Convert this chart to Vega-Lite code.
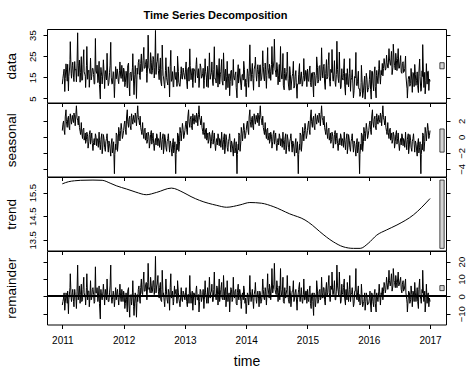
{
"$schema": "https://vega.github.io/schema/vega-lite/v6.json",
"padding": {"left": 3, "top": 9, "right": 28, "bottom": 48},
"background": "white",
"bounds": "flush",
"title": {"text": "Time Series Decomposition", "fontSize": 11, "fontWeight": "bold", "font": "Liberation Sans", "anchor": "middle", "frame": "group", "dx": -31, "offset": -2, "baseline": "alphabetic", "color": "black"},
"config": {"view": {"stroke": "black", "strokeWidth": 1}, "font": "Liberation Sans", "axis": {"grid": false, "domain": false, "ticks": true, "tickColor": "black", "tickSize": 4, "labelColor": "black", "titleColor": "black", "titleFontWeight": "normal", "labelFont": "Liberation Sans", "titleFont": "Liberation Sans", "labelFlush": false}},
"datasets": {
"ts": [
{"t":2011.00,"d":11.8,"s":0.8,"r":-5},{"t":2011.02,"d":17.0,"s":2.0,"r":-1},{"t":2011.04,"d":8.3,"s":0.3,"r":-8},{"t":2011.06,"d":21.4,"s":3.4,"r":2},{"t":2011.08,"d":13.2,"s":1.2,"r":-4},{"t":2011.10,"d":8.6,"s":2.6,"r":-10},{"t":2011.12,"d":19.9,"s":0.9,"r":3},{"t":2011.13,"d":31.9,"s":2.9,"r":13},{"t":2011.15,"d":14.6,"s":1.6,"r":-3},{"t":2011.17,"d":22.2,"s":2.2,"r":4},{"t":2011.19,"d":13.0,"s":3.0,"r":-6},{"t":2011.21,"d":18.4,"s":1.4,"r":1},{"t":2011.23,"d":12.9,"s":3.9,"r":-7},{"t":2011.25,"d":36.1,"s":2.1,"r":18},{"t":2011.27,"d":20.6,"s":2.6,"r":2},{"t":2011.29,"d":12.7,"s":0.7,"r":-4},{"t":2011.31,"d":24.8,"s":1.8,"r":7},{"t":2011.33,"d":13.8,"s":-0.2,"r":-2},{"t":2011.35,"d":28.1,"s":1.1,"r":11},{"t":2011.37,"d":16.2,"s":0.2,"r":0},{"t":2011.38,"d":10.2,"s":-0.8,"r":-5},{"t":2011.40,"d":29.6,"s":0.6,"r":13},{"t":2011.42,"d":17.6,"s":-1.4,"r":3},{"t":2011.44,"d":10.3,"s":0.3,"r":-6},{"t":2011.46,"d":24.1,"s":-0.9,"r":9},{"t":2011.48,"d":15.5,"s":0.5,"r":-1},{"t":2011.50,"d":19.3,"s":-1.7,"r":5},{"t":2011.52,"d":11.8,"s":-0.2,"r":-4},{"t":2011.54,"d":33.4,"s":0.4,"r":17},{"t":2011.56,"d":16.9,"s":-1.1,"r":2},{"t":2011.58,"d":12.5,"s":-0.5,"r":-3},{"t":2011.60,"d":22.6,"s":0.6,"r":6},{"t":2011.62,"d":4.8,"s":-1.6,"r":-13},{"t":2011.63,"d":19.7,"s":-0.3,"r":4},{"t":2011.65,"d":11.9,"s":-2.1,"r":-2},{"t":2011.67,"d":23.3,"s":0.3,"r":7},{"t":2011.69,"d":9.7,"s":-1.3,"r":-5},{"t":2011.71,"d":16.4,"s":-0.6,"r":1},{"t":2011.73,"d":26.4,"s":0.4,"r":10},{"t":2011.75,"d":11.1,"s":-1.9,"r":-3},{"t":2011.77,"d":17.2,"s":-0.8,"r":2},{"t":2011.79,"d":31.6,"s":-2.4,"r":18},{"t":2011.81,"d":11.8,"s":-0.2,"r":-4},{"t":2011.83,"d":17.7,"s":-1.3,"r":3},{"t":2011.85,"d":5.4,"s":-4.6,"r":-6},{"t":2011.87,"d":20.1,"s":-0.9,"r":5},{"t":2011.88,"d":14.3,"s":0.5,"r":-2},{"t":2011.90,"d":18.0,"s":-1.8,"r":4},{"t":2011.92,"d":12.0,"s":1.2,"r":-5},{"t":2011.94,"d":22.3,"s":-0.5,"r":7},{"t":2011.96,"d":14.5,"s":1.7,"r":-3},{"t":2011.98,"d":16.6,"s":-0.2,"r":1},
{"t":2012.00,"d":19.4,"s":0.8,"r":3},{"t":2012.02,"d":10.6,"s":2.0,"r":-7},{"t":2012.04,"d":17.9,"s":0.3,"r":2},{"t":2012.06,"d":10.0,"s":3.4,"r":-9},{"t":2012.08,"d":21.8,"s":1.2,"r":5},{"t":2012.10,"d":6.2,"s":2.6,"r":-12},{"t":2012.12,"d":17.5,"s":0.9,"r":1},{"t":2012.13,"d":13.5,"s":2.9,"r":-5},{"t":2012.15,"d":26.2,"s":1.6,"r":9},{"t":2012.17,"d":6.8,"s":2.2,"r":-11},{"t":2012.19,"d":20.6,"s":3.0,"r":2},{"t":2012.21,"d":5.0,"s":1.4,"r":-12},{"t":2012.23,"d":16.5,"s":3.9,"r":-3},{"t":2012.25,"d":23.5,"s":2.1,"r":6},{"t":2012.27,"d":14.0,"s":2.6,"r":-4},{"t":2012.29,"d":26.1,"s":0.7,"r":10},{"t":2012.31,"d":18.2,"s":1.8,"r":1},{"t":2012.33,"d":29.2,"s":-0.2,"r":14},{"t":2012.35,"d":19.5,"s":1.1,"r":3},{"t":2012.37,"d":23.6,"s":0.2,"r":8},{"t":2012.38,"d":12.6,"s":-0.8,"r":-2},{"t":2012.40,"d":35.0,"s":0.6,"r":19},{"t":2012.42,"d":19.0,"s":-1.4,"r":5},{"t":2012.44,"d":26.7,"s":0.3,"r":11},{"t":2012.46,"d":16.5,"s":-0.9,"r":2},{"t":2012.48,"d":24.9,"s":0.5,"r":9},{"t":2012.50,"d":14.7,"s":-1.7,"r":1},{"t":2012.52,"d":37.2,"s":-0.2,"r":23},{"t":2012.54,"d":21.8,"s":0.4,"r":6},{"t":2012.56,"d":26.3,"s":-1.1,"r":12},{"t":2012.58,"d":13.9,"s":-0.5,"r":-1},{"t":2012.60,"d":24.2,"s":0.6,"r":8},{"t":2012.62,"d":11.0,"s":-1.6,"r":-3},{"t":2012.63,"d":30.3,"s":-0.3,"r":15},{"t":2012.65,"d":15.5,"s":-2.1,"r":2},{"t":2012.67,"d":9.9,"s":0.3,"r":-6},{"t":2012.69,"d":24.3,"s":-1.3,"r":10},{"t":2012.71,"d":13.0,"s":-0.6,"r":-2},{"t":2012.73,"d":20.0,"s":0.4,"r":4},{"t":2012.75,"d":5.7,"s":-1.9,"r":-8},{"t":2012.77,"d":27.8,"s":-0.8,"r":13},{"t":2012.79,"d":14.2,"s":-2.4,"r":1},{"t":2012.81,"d":10.4,"s":-0.2,"r":-5},{"t":2012.83,"d":20.3,"s":-1.3,"r":6},{"t":2012.85,"d":14.0,"s":-4.6,"r":3},{"t":2012.87,"d":10.7,"s":-0.9,"r":-4},{"t":2012.88,"d":25.0,"s":0.5,"r":9},{"t":2012.90,"d":12.7,"s":-1.8,"r":-1},{"t":2012.92,"d":10.7,"s":1.2,"r":-6},{"t":2012.94,"d":20.0,"s":-0.5,"r":5},{"t":2012.96,"d":14.2,"s":1.7,"r":-3},{"t":2012.98,"d":17.3,"s":-0.2,"r":2},
{"t":2013.00,"d":14.1,"s":0.8,"r":-2},{"t":2013.02,"d":22.3,"s":2.0,"r":5},{"t":2013.04,"d":9.6,"s":0.3,"r":-6},{"t":2013.06,"d":19.7,"s":3.4,"r":1},{"t":2013.08,"d":28.5,"s":1.2,"r":12},{"t":2013.10,"d":13.9,"s":2.6,"r":-4},{"t":2013.12,"d":19.2,"s":0.9,"r":3},{"t":2013.13,"d":10.2,"s":2.9,"r":-8},{"t":2013.15,"d":18.9,"s":1.6,"r":2},{"t":2013.17,"d":12.5,"s":2.2,"r":-5},{"t":2013.19,"d":24.3,"s":3.0,"r":6},{"t":2013.21,"d":14.7,"s":1.4,"r":-2},{"t":2013.23,"d":10.2,"s":3.9,"r":-9},{"t":2013.25,"d":21.4,"s":2.1,"r":4},{"t":2013.27,"d":14.6,"s":2.6,"r":-3},{"t":2013.29,"d":16.7,"s":0.7,"r":1},{"t":2013.31,"d":9.8,"s":1.8,"r":-7},{"t":2013.33,"d":23.8,"s":-0.2,"r":9},{"t":2013.35,"d":15.1,"s":1.1,"r":-1},{"t":2013.37,"d":20.2,"s":0.2,"r":5},{"t":2013.38,"d":10.2,"s":-0.8,"r":-4},{"t":2013.40,"d":26.6,"s":0.6,"r":11},{"t":2013.42,"d":15.6,"s":-1.4,"r":2},{"t":2013.44,"d":22.3,"s":0.3,"r":7},{"t":2013.46,"d":11.1,"s":-0.9,"r":-3},{"t":2013.48,"d":29.5,"s":0.5,"r":14},{"t":2013.50,"d":14.3,"s":-1.7,"r":1},{"t":2013.52,"d":20.8,"s":-0.2,"r":6},{"t":2013.54,"d":10.4,"s":0.4,"r":-5},{"t":2013.56,"d":23.9,"s":-1.1,"r":10},{"t":2013.58,"d":16.5,"s":-0.5,"r":2},{"t":2013.60,"d":23.5,"s":0.6,"r":8},{"t":2013.62,"d":11.3,"s":-1.6,"r":-2},{"t":2013.63,"d":26.6,"s":-0.3,"r":12},{"t":2013.65,"d":15.8,"s":-2.1,"r":3},{"t":2013.67,"d":9.2,"s":0.3,"r":-6},{"t":2013.69,"d":22.6,"s":-1.3,"r":9},{"t":2013.71,"d":14.3,"s":-0.6,"r":0},{"t":2013.73,"d":6.3,"s":0.4,"r":-9},{"t":2013.75,"d":18.0,"s":-1.9,"r":5},{"t":2013.77,"d":11.1,"s":-0.8,"r":-3},{"t":2013.79,"d":23.5,"s":-2.4,"r":11},{"t":2013.81,"d":13.7,"s":-0.2,"r":-1},{"t":2013.83,"d":17.6,"s":-1.3,"r":4},{"t":2013.85,"d":5.3,"s":-4.6,"r":-5},{"t":2013.87,"d":21.0,"s":-0.9,"r":7},{"t":2013.88,"d":13.4,"s":0.5,"r":-2},{"t":2013.90,"d":16.1,"s":-1.8,"r":3},{"t":2013.92,"d":9.1,"s":1.2,"r":-7},{"t":2013.94,"d":16.4,"s":-0.5,"r":2},{"t":2013.96,"d":22.6,"s":1.7,"r":6},{"t":2013.98,"d":10.7,"s":-0.2,"r":-4},
{"t":2014.00,"d":5.8,"s":0.8,"r":-10},{"t":2014.02,"d":19.0,"s":2.0,"r":2},{"t":2014.04,"d":10.3,"s":0.3,"r":-5},{"t":2014.06,"d":30.4,"s":3.4,"r":12},{"t":2014.08,"d":13.2,"s":1.2,"r":-3},{"t":2014.10,"d":21.6,"s":2.6,"r":4},{"t":2014.12,"d":8.9,"s":0.9,"r":-7},{"t":2014.13,"d":18.9,"s":2.9,"r":1},{"t":2014.15,"d":24.6,"s":1.6,"r":8},{"t":2014.17,"d":13.2,"s":2.2,"r":-4},{"t":2014.19,"d":21.0,"s":3.0,"r":3},{"t":2014.21,"d":10.4,"s":1.4,"r":-6},{"t":2014.23,"d":20.9,"s":3.9,"r":2},{"t":2014.25,"d":14.1,"s":2.1,"r":-3},{"t":2014.27,"d":27.6,"s":2.6,"r":10},{"t":2014.29,"d":14.7,"s":0.7,"r":-1},{"t":2014.31,"d":21.8,"s":1.8,"r":5},{"t":2014.33,"d":9.8,"s":-0.2,"r":-5},{"t":2014.35,"d":29.1,"s":1.1,"r":13},{"t":2014.37,"d":16.2,"s":0.2,"r":1},{"t":2014.38,"d":21.2,"s":-0.8,"r":7},{"t":2014.40,"d":13.6,"s":0.6,"r":-2},{"t":2014.42,"d":29.6,"s":-1.4,"r":16},{"t":2014.44,"d":19.3,"s":0.3,"r":4},{"t":2014.46,"d":33.1,"s":-0.9,"r":19},{"t":2014.48,"d":17.5,"s":0.5,"r":2},{"t":2014.50,"d":22.0,"s":-1.7,"r":9},{"t":2014.52,"d":11.5,"s":-0.2,"r":-3},{"t":2014.54,"d":21.1,"s":0.4,"r":6},{"t":2014.56,"d":29.6,"s":-1.1,"r":16},{"t":2014.58,"d":14.2,"s":-0.5,"r":0},{"t":2014.60,"d":26.3,"s":0.6,"r":11},{"t":2014.62,"d":9.1,"s":-1.6,"r":-4},{"t":2014.63,"d":19.4,"s":-0.3,"r":5},{"t":2014.65,"d":13.6,"s":-2.1,"r":1},{"t":2014.67,"d":27.0,"s":0.3,"r":12},{"t":2014.69,"d":11.4,"s":-1.3,"r":-2},{"t":2014.71,"d":20.1,"s":-0.6,"r":6},{"t":2014.73,"d":9.1,"s":0.4,"r":-6},{"t":2014.75,"d":15.5,"s":-1.9,"r":3},{"t":2014.77,"d":22.6,"s":-0.8,"r":9},{"t":2014.79,"d":11.0,"s":-2.4,"r":-1},{"t":2014.81,"d":18.2,"s":-0.2,"r":4},{"t":2014.83,"d":5.1,"s":-1.3,"r":-8},{"t":2014.85,"d":11.8,"s":-4.6,"r":2},{"t":2014.87,"d":21.5,"s":-0.9,"r":8},{"t":2014.88,"d":11.9,"s":0.5,"r":-3},{"t":2014.90,"d":17.6,"s":-1.8,"r":5},{"t":2014.92,"d":11.6,"s":1.2,"r":-4},{"t":2014.94,"d":23.9,"s":-0.5,"r":10},{"t":2014.96,"d":14.1,"s":1.7,"r":-2},{"t":2014.98,"d":17.2,"s":-0.2,"r":3},
{"t":2015.00,"d":18.9,"s":0.8,"r":4},{"t":2015.02,"d":13.1,"s":2.0,"r":-3},{"t":2015.04,"d":20.4,"s":0.3,"r":6},{"t":2015.06,"d":10.5,"s":3.4,"r":-7},{"t":2015.08,"d":17.3,"s":1.2,"r":2},{"t":2015.10,"d":5.7,"s":2.6,"r":-11},{"t":2015.12,"d":16.0,"s":0.9,"r":1},{"t":2015.13,"d":11.0,"s":2.9,"r":-6},{"t":2015.15,"d":24.7,"s":1.6,"r":9},{"t":2015.17,"d":12.3,"s":2.2,"r":-4},{"t":2015.19,"d":20.1,"s":3.0,"r":3},{"t":2015.21,"d":13.5,"s":1.4,"r":-2},{"t":2015.23,"d":29.0,"s":3.9,"r":11},{"t":2015.25,"d":14.7,"s":2.1,"r":-1},{"t":2015.27,"d":21.2,"s":2.6,"r":5},{"t":2015.29,"d":9.3,"s":0.7,"r":-5},{"t":2015.31,"d":23.4,"s":1.8,"r":8},{"t":2015.33,"d":15.4,"s":-0.2,"r":2},{"t":2015.35,"d":26.7,"s":1.1,"r":12},{"t":2015.37,"d":10.8,"s":0.2,"r":-3},{"t":2015.38,"d":18.8,"s":-0.8,"r":6},{"t":2015.40,"d":28.2,"s":0.6,"r":14},{"t":2015.42,"d":13.2,"s":-1.4,"r":1},{"t":2015.44,"d":22.9,"s":0.3,"r":9},{"t":2015.46,"d":10.7,"s":-0.9,"r":-2},{"t":2015.48,"d":32.1,"s":0.5,"r":18},{"t":2015.50,"d":14.5,"s":-1.7,"r":3},{"t":2015.52,"d":27.0,"s":-0.2,"r":14},{"t":2015.54,"d":9.6,"s":0.4,"r":-4},{"t":2015.56,"d":19.1,"s":-1.1,"r":7},{"t":2015.58,"d":13.7,"s":-0.5,"r":1},{"t":2015.60,"d":23.8,"s":0.6,"r":10},{"t":2015.62,"d":6.6,"s":-1.6,"r":-5},{"t":2015.63,"d":16.9,"s":-0.3,"r":4},{"t":2015.65,"d":19.1,"s":-2.1,"r":8},{"t":2015.67,"d":10.5,"s":0.3,"r":-3},{"t":2015.69,"d":23.9,"s":-1.3,"r":12},{"t":2015.71,"d":13.6,"s":-0.6,"r":1},{"t":2015.73,"d":18.6,"s":0.4,"r":5},{"t":2015.75,"d":5.3,"s":-1.9,"r":-6},{"t":2015.77,"d":15.4,"s":-0.8,"r":3},{"t":2015.79,"d":26.8,"s":-2.4,"r":16},{"t":2015.81,"d":11.0,"s":-0.2,"r":-2},{"t":2015.83,"d":17.9,"s":-1.3,"r":6},{"t":2015.85,"d":9.6,"s":-4.6,"r":1},{"t":2015.87,"d":8.3,"s":-0.9,"r":-4},{"t":2015.88,"d":20.7,"s":0.5,"r":7},{"t":2015.90,"d":5.4,"s":-1.8,"r":-6},{"t":2015.92,"d":11.4,"s":1.2,"r":-3},{"t":2015.94,"d":4.7,"s":-0.5,"r":-8},{"t":2015.96,"d":16.9,"s":1.7,"r":2},{"t":2015.98,"d":8.0,"s":-0.2,"r":-5},
{"t":2016.00,"d":10.2,"s":0.8,"r":-4},{"t":2016.02,"d":18.4,"s":2.0,"r":3},{"t":2016.04,"d":4.7,"s":0.3,"r":-9},{"t":2016.06,"d":17.8,"s":3.4,"r":1},{"t":2016.08,"d":8.6,"s":1.2,"r":-6},{"t":2016.10,"d":20.0,"s":2.6,"r":4},{"t":2016.12,"d":5.3,"s":0.9,"r":-9},{"t":2016.13,"d":18.3,"s":2.9,"r":2},{"t":2016.15,"d":12.0,"s":1.6,"r":-3},{"t":2016.17,"d":23.0,"s":2.2,"r":7},{"t":2016.19,"d":11.8,"s":3.0,"r":-5},{"t":2016.21,"d":16.2,"s":1.4,"r":1},{"t":2016.23,"d":15.7,"s":3.9,"r":-2},{"t":2016.25,"d":23.9,"s":2.1,"r":8},{"t":2016.27,"d":18.4,"s":2.6,"r":2},{"t":2016.29,"d":25.5,"s":0.7,"r":11},{"t":2016.31,"d":19.6,"s":1.8,"r":4},{"t":2016.33,"d":28.6,"s":-0.2,"r":15},{"t":2016.35,"d":21.2,"s":1.1,"r":6},{"t":2016.37,"d":27.3,"s":0.2,"r":13},{"t":2016.38,"d":16.3,"s":-0.8,"r":3},{"t":2016.40,"d":30.7,"s":0.6,"r":16},{"t":2016.42,"d":20.7,"s":-1.4,"r":8},{"t":2016.44,"d":26.4,"s":0.3,"r":12},{"t":2016.46,"d":18.2,"s":-0.9,"r":5},{"t":2016.48,"d":28.6,"s":0.5,"r":14},{"t":2016.50,"d":19.4,"s":-1.7,"r":7},{"t":2016.52,"d":25.3,"s":-0.2,"r":11},{"t":2016.54,"d":16.9,"s":0.4,"r":2},{"t":2016.56,"d":22.4,"s":-1.1,"r":9},{"t":2016.58,"d":18.0,"s":-0.5,"r":4},{"t":2016.60,"d":25.1,"s":0.6,"r":10},{"t":2016.62,"d":10.9,"s":-1.6,"r":-2},{"t":2016.63,"d":5.2,"s":-0.3,"r":-9},{"t":2016.65,"d":15.4,"s":-2.1,"r":3},{"t":2016.67,"d":10.8,"s":0.3,"r":-4},{"t":2016.69,"d":19.2,"s":-1.3,"r":6},{"t":2016.71,"d":7.9,"s":-0.6,"r":-6},{"t":2016.73,"d":16.9,"s":0.4,"r":2},{"t":2016.75,"d":21.1,"s":-1.9,"r":8},{"t":2016.77,"d":11.2,"s":-0.8,"r":-3},{"t":2016.79,"d":17.6,"s":-2.4,"r":5},{"t":2016.81,"d":7.8,"s":-0.2,"r":-7},{"t":2016.83,"d":23.7,"s":-1.3,"r":10},{"t":2016.85,"d":8.4,"s":-4.6,"r":-2},{"t":2016.87,"d":18.1,"s":-0.9,"r":4},{"t":2016.88,"d":30.5,"s":0.5,"r":15},{"t":2016.90,"d":10.2,"s":-1.8,"r":-3},{"t":2016.92,"d":7.2,"s":1.2,"r":-9},{"t":2016.94,"d":21.5,"s":-0.5,"r":7},{"t":2016.96,"d":17.7,"s":1.7,"r":1},{"t":2016.98,"d":8.8,"s":-0.2,"r":-6},
{"t":2017.00,"d":13.1,"s":0.8,"r":-3},
{"t":2011.010,"d":14.6,"s":1.6,"r":-3},{"t":2011.029,"d":18.9,"s":0.9,"r":2},{"t":2011.048,"d":14.5,"s":2.5,"r":-4},{"t":2011.067,"d":18.9,"s":1.9,"r":1},{"t":2011.087,"d":21.2,"s":2.2,"r":3},{"t":2011.106,"d":15.4,"s":1.4,"r":-2},{"t":2011.125,"d":23.4,"s":2.4,"r":5},{"t":2011.144,"d":16.9,"s":1.9,"r":-1},{"t":2011.163,"d":20.7,"s":2.7,"r":2},{"t":2011.183,"d":14.8,"s":1.8,"r":-3},{"t":2011.202,"d":22.5,"s":2.5,"r":4},{"t":2011.221,"d":18.8,"s":2.8,"r":0},{"t":2011.240,"d":21.4,"s":2.4,"r":3},{"t":2011.260,"d":15.5,"s":1.5,"r":-2},{"t":2011.279,"d":23.2,"s":1.2,"r":6},{"t":2011.298,"d":17.3,"s":0.3,"r":1},{"t":2011.317,"d":13.6,"s":0.6,"r":-3},{"t":2011.337,"d":20.9,"s":0.9,"r":4},{"t":2011.356,"d":17.6,"s":-0.4,"r":2},{"t":2011.375,"d":15.5,"s":0.5,"r":-1},{"t":2011.394,"d":20.7,"s":-0.3,"r":5},{"t":2011.413,"d":14.1,"s":0.1,"r":-2},{"t":2011.433,"d":18.4,"s":-0.6,"r":3},{"t":2011.452,"d":16.8,"s":0.8,"r":0},{"t":2011.471,"d":13.8,"s":-0.2,"r":-2},{"t":2011.490,"d":19.2,"s":-0.8,"r":4},{"t":2011.510,"d":16.3,"s":-0.7,"r":1},{"t":2011.529,"d":12.0,"s":-1.0,"r":-3},{"t":2011.548,"d":18.1,"s":0.1,"r":2},{"t":2011.567,"d":20.8,"s":-0.2,"r":5},{"t":2011.587,"d":13.7,"s":-1.3,"r":-1},{"t":2011.606,"d":11.6,"s":-0.4,"r":-4},{"t":2011.625,"d":17.1,"s":-0.9,"r":2},{"t":2011.644,"d":15.4,"s":0.4,"r":-1},{"t":2011.663,"d":18.0,"s":-1.0,"r":3},{"t":2011.683,"d":15.6,"s":-0.4,"r":0},{"t":2011.702,"d":18.2,"s":-1.8,"r":4},{"t":2011.721,"d":13.8,"s":-0.2,"r":-2},{"t":2011.740,"d":16.1,"s":-0.9,"r":1},{"t":2011.760,"d":12.5,"s":-0.5,"r":-3},{"t":2011.779,"d":20.5,"s":-1.5,"r":6},{"t":2011.798,"d":15.1,"s":-0.9,"r":0},{"t":2011.817,"d":12.0,"s":-2.0,"r":-2},{"t":2011.837,"d":17.4,"s":-0.6,"r":2},{"t":2011.856,"d":10.8,"s":-2.2,"r":-3},{"t":2011.875,"d":15.4,"s":-1.6,"r":1},{"t":2011.894,"d":19.0,"s":0.2,"r":3},{"t":2011.913,"d":13.2,"s":-0.6,"r":-2},{"t":2011.933,"d":18.2,"s":0.4,"r":2},{"t":2011.952,"d":15.6,"s":0.8,"r":-1},{"t":2011.971,"d":20.7,"s":0.9,"r":4},{"t":2011.990,"d":13.0,"s":0.2,"r":-3},
{"t":2012.010,"d":18.2,"s":1.6,"r":1},{"t":2012.029,"d":12.5,"s":0.9,"r":-4},{"t":2012.048,"d":16.1,"s":2.5,"r":-2},{"t":2012.067,"d":20.5,"s":1.9,"r":3},{"t":2012.087,"d":12.8,"s":2.2,"r":-5},{"t":2012.106,"d":17.0,"s":1.4,"r":0},{"t":2012.125,"d":15.0,"s":2.4,"r":-3},{"t":2012.144,"d":19.5,"s":1.9,"r":2},{"t":2012.163,"d":12.3,"s":2.7,"r":-6},{"t":2012.183,"d":16.4,"s":1.8,"r":-1},{"t":2012.202,"d":14.1,"s":2.5,"r":-4},{"t":2012.221,"d":19.4,"s":2.8,"r":1},{"t":2012.240,"d":22.0,"s":2.4,"r":4},{"t":2012.260,"d":15.9,"s":1.5,"r":-1},{"t":2012.279,"d":21.6,"s":1.2,"r":5},{"t":2012.298,"d":17.7,"s":0.3,"r":2},{"t":2012.317,"d":23.0,"s":0.6,"r":7},{"t":2012.337,"d":19.3,"s":0.9,"r":3},{"t":2012.356,"d":21.0,"s":-0.4,"r":6},{"t":2012.375,"d":16.9,"s":0.5,"r":1},{"t":2012.394,"d":23.1,"s":-0.3,"r":8},{"t":2012.413,"d":19.5,"s":0.1,"r":4},{"t":2012.433,"d":16.8,"s":-0.6,"r":2},{"t":2012.452,"d":22.2,"s":0.8,"r":6},{"t":2012.471,"d":18.2,"s":-0.2,"r":3},{"t":2012.490,"d":23.6,"s":-0.8,"r":9},{"t":2012.510,"d":19.7,"s":-0.7,"r":5},{"t":2012.529,"d":16.4,"s":-1.0,"r":2},{"t":2012.548,"d":22.5,"s":0.1,"r":7},{"t":2012.567,"d":18.2,"s":-0.2,"r":3},{"t":2012.587,"d":19.1,"s":-1.3,"r":5},{"t":2012.606,"d":13.2,"s":-0.4,"r":-2},{"t":2012.625,"d":18.7,"s":-0.9,"r":4},{"t":2012.644,"d":16.0,"s":0.4,"r":0},{"t":2012.663,"d":11.6,"s":-1.0,"r":-3},{"t":2012.683,"d":18.2,"s":-0.4,"r":3},{"t":2012.702,"d":14.8,"s":-1.8,"r":1},{"t":2012.721,"d":11.4,"s":-0.2,"r":-4},{"t":2012.740,"d":16.7,"s":-0.9,"r":2},{"t":2012.760,"d":20.1,"s":-0.5,"r":5},{"t":2012.779,"d":13.1,"s":-1.5,"r":-1},{"t":2012.798,"d":17.7,"s":-0.9,"r":3},{"t":2012.817,"d":10.6,"s":-2.0,"r":-3},{"t":2012.837,"d":16.0,"s":-0.6,"r":1},{"t":2012.856,"d":17.4,"s":-2.2,"r":4},{"t":2012.875,"d":12.0,"s":-1.6,"r":-2},{"t":2012.894,"d":17.7,"s":0.2,"r":2},{"t":2012.913,"d":10.9,"s":-0.6,"r":-4},{"t":2012.933,"d":16.9,"s":0.4,"r":1},{"t":2012.952,"d":14.3,"s":0.8,"r":-2},{"t":2012.971,"d":19.4,"s":0.9,"r":3},{"t":2012.990,"d":15.7,"s":0.2,"r":0},
{"t":2013.010,"d":18.9,"s":1.6,"r":2},{"t":2013.029,"d":13.2,"s":0.9,"r":-3},{"t":2013.048,"d":18.8,"s":2.5,"r":1},{"t":2013.067,"d":13.2,"s":1.9,"r":-4},{"t":2013.087,"d":20.5,"s":2.2,"r":3},{"t":2013.106,"d":15.7,"s":1.4,"r":-1},{"t":2013.125,"d":12.7,"s":2.4,"r":-5},{"t":2013.144,"d":19.2,"s":1.9,"r":2},{"t":2013.163,"d":18.0,"s":2.7,"r":0},{"t":2013.183,"d":21.1,"s":1.8,"r":4},{"t":2013.202,"d":15.8,"s":2.5,"r":-2},{"t":2013.221,"d":19.1,"s":2.8,"r":1},{"t":2013.240,"d":14.7,"s":2.4,"r":-3},{"t":2013.260,"d":19.8,"s":1.5,"r":3},{"t":2013.279,"d":15.2,"s":1.2,"r":-1},{"t":2013.298,"d":19.3,"s":0.3,"r":4},{"t":2013.317,"d":13.6,"s":0.6,"r":-2},{"t":2013.337,"d":17.9,"s":0.9,"r":2},{"t":2013.356,"d":10.6,"s":-0.4,"r":-4},{"t":2013.375,"d":16.5,"s":0.5,"r":1},{"t":2013.394,"d":19.7,"s":-0.3,"r":5},{"t":2013.413,"d":14.1,"s":0.1,"r":-1},{"t":2013.433,"d":17.4,"s":-0.6,"r":3},{"t":2013.452,"d":12.8,"s":0.8,"r":-3},{"t":2013.471,"d":18.8,"s":-0.2,"r":4},{"t":2013.490,"d":14.2,"s":-0.8,"r":0},{"t":2013.510,"d":12.3,"s":-0.7,"r":-2},{"t":2013.529,"d":19.0,"s":-1.0,"r":5},{"t":2013.548,"d":16.1,"s":0.1,"r":1},{"t":2013.567,"d":11.8,"s":-0.2,"r":-3},{"t":2013.587,"d":17.7,"s":-1.3,"r":4},{"t":2013.606,"d":13.5,"s":-0.4,"r":-1},{"t":2013.625,"d":17.0,"s":-0.9,"r":3},{"t":2013.644,"d":13.3,"s":0.4,"r":-2},{"t":2013.663,"d":18.9,"s":-1.0,"r":5},{"t":2013.683,"d":15.5,"s":-0.4,"r":1},{"t":2013.702,"d":10.1,"s":-1.8,"r":-3},{"t":2013.721,"d":16.7,"s":-0.2,"r":2},{"t":2013.740,"d":13.0,"s":-0.9,"r":-1},{"t":2013.760,"d":18.4,"s":-0.5,"r":4},{"t":2013.779,"d":11.4,"s":-1.5,"r":-2},{"t":2013.798,"d":15.0,"s":-0.9,"r":1},{"t":2013.817,"d":15.9,"s":-2.0,"r":3},{"t":2013.837,"d":10.3,"s":-0.6,"r":-4},{"t":2013.856,"d":14.7,"s":-2.2,"r":2},{"t":2013.875,"d":12.3,"s":-1.6,"r":-1},{"t":2013.894,"d":19.1,"s":0.2,"r":4},{"t":2013.913,"d":11.3,"s":-0.6,"r":-3},{"t":2013.933,"d":16.3,"s":0.4,"r":1},{"t":2013.952,"d":13.7,"s":0.8,"r":-2},{"t":2013.971,"d":18.8,"s":0.9,"r":3},{"t":2013.990,"d":14.1,"s":0.2,"r":-1},
{"t":2014.010,"d":12.6,"s":1.6,"r":-4},{"t":2014.029,"d":16.9,"s":0.9,"r":1},{"t":2014.048,"d":15.5,"s":2.5,"r":-2},{"t":2014.067,"d":19.9,"s":1.9,"r":3},{"t":2014.087,"d":16.2,"s":2.2,"r":-1},{"t":2014.106,"d":16.4,"s":1.4,"r":0},{"t":2014.125,"d":14.4,"s":2.4,"r":-3},{"t":2014.144,"d":20.9,"s":1.9,"r":4},{"t":2014.163,"d":15.7,"s":2.7,"r":-2},{"t":2014.183,"d":18.8,"s":1.8,"r":2},{"t":2014.202,"d":16.5,"s":2.5,"r":-1},{"t":2014.221,"d":20.8,"s":2.8,"r":3},{"t":2014.240,"d":13.4,"s":2.4,"r":-4},{"t":2014.260,"d":17.5,"s":1.5,"r":1},{"t":2014.279,"d":20.2,"s":1.2,"r":4},{"t":2014.298,"d":13.3,"s":0.3,"r":-2},{"t":2014.317,"d":18.6,"s":0.6,"r":3},{"t":2014.337,"d":15.9,"s":0.9,"r":0},{"t":2014.356,"d":19.6,"s":-0.4,"r":5},{"t":2014.375,"d":14.5,"s":0.5,"r":-1},{"t":2014.394,"d":17.7,"s":-0.3,"r":3},{"t":2014.413,"d":21.1,"s":0.1,"r":6},{"t":2014.433,"d":16.4,"s":-0.6,"r":2},{"t":2014.452,"d":22.8,"s":0.8,"r":7},{"t":2014.471,"d":18.8,"s":-0.2,"r":4},{"t":2014.490,"d":15.2,"s":-0.8,"r":1},{"t":2014.510,"d":19.0,"s":-0.7,"r":5},{"t":2014.529,"d":15.7,"s":-1.0,"r":2},{"t":2014.548,"d":12.8,"s":0.1,"r":-2},{"t":2014.567,"d":18.5,"s":-0.2,"r":4},{"t":2014.587,"d":14.4,"s":-1.3,"r":1},{"t":2014.606,"d":11.3,"s":-0.4,"r":-3},{"t":2014.625,"d":16.8,"s":-0.9,"r":3},{"t":2014.644,"d":14.1,"s":0.4,"r":-1},{"t":2014.663,"d":17.7,"s":-1.0,"r":4},{"t":2014.683,"d":14.3,"s":-0.4,"r":0},{"t":2014.702,"d":8.9,"s":-1.8,"r":-4},{"t":2014.721,"d":16.5,"s":-0.2,"r":2},{"t":2014.740,"d":12.8,"s":-0.9,"r":-1},{"t":2014.760,"d":16.9,"s":-0.5,"r":3},{"t":2014.779,"d":9.9,"s":-1.5,"r":-3},{"t":2014.798,"d":15.5,"s":-0.9,"r":2},{"t":2014.817,"d":12.4,"s":-2.0,"r":0},{"t":2014.837,"d":11.8,"s":-0.6,"r":-2},{"t":2014.856,"d":16.2,"s":-2.2,"r":4},{"t":2014.875,"d":11.8,"s":-1.6,"r":-1},{"t":2014.894,"d":16.6,"s":0.2,"r":2},{"t":2014.913,"d":10.8,"s":-0.6,"r":-3},{"t":2014.933,"d":15.8,"s":0.4,"r":1},{"t":2014.952,"d":13.2,"s":0.8,"r":-2},{"t":2014.971,"d":18.3,"s":0.9,"r":3},{"t":2014.990,"d":10.6,"s":0.2,"r":-4},
{"t":2015.010,"d":13.7,"s":1.6,"r":-2},{"t":2015.029,"d":18.0,"s":0.9,"r":3},{"t":2015.048,"d":12.6,"s":2.5,"r":-4},{"t":2015.067,"d":17.0,"s":1.9,"r":1},{"t":2015.087,"d":13.3,"s":2.2,"r":-3},{"t":2015.106,"d":17.5,"s":1.4,"r":2},{"t":2015.125,"d":11.5,"s":2.4,"r":-5},{"t":2015.144,"d":16.0,"s":1.9,"r":0},{"t":2015.163,"d":19.8,"s":2.7,"r":3},{"t":2015.183,"d":13.9,"s":1.8,"r":-2},{"t":2015.202,"d":20.6,"s":2.5,"r":4},{"t":2015.221,"d":15.9,"s":2.8,"r":-1},{"t":2015.240,"d":18.5,"s":2.4,"r":2},{"t":2015.260,"d":20.1,"s":1.5,"r":5},{"t":2015.279,"d":12.8,"s":1.2,"r":-2},{"t":2015.298,"d":16.9,"s":0.3,"r":3},{"t":2015.317,"d":14.2,"s":0.6,"r":0},{"t":2015.337,"d":20.5,"s":0.9,"r":6},{"t":2015.356,"d":15.2,"s":-0.4,"r":2},{"t":2015.375,"d":13.1,"s":0.5,"r":-1},{"t":2015.394,"d":17.3,"s":-0.3,"r":4},{"t":2015.413,"d":14.7,"s":0.1,"r":1},{"t":2015.433,"d":18.0,"s":-0.6,"r":5},{"t":2015.452,"d":12.4,"s":0.8,"r":-2},{"t":2015.471,"d":16.4,"s":-0.2,"r":3},{"t":2015.490,"d":18.8,"s":-0.8,"r":6},{"t":2015.510,"d":12.5,"s":-0.7,"r":0},{"t":2015.529,"d":16.2,"s":-1.0,"r":4},{"t":2015.548,"d":10.3,"s":0.1,"r":-3},{"t":2015.567,"d":15.0,"s":-0.2,"r":2},{"t":2015.587,"d":16.9,"s":-1.3,"r":5},{"t":2015.606,"d":11.8,"s":-0.4,"r":-1},{"t":2015.625,"d":15.3,"s":-0.9,"r":3},{"t":2015.644,"d":11.6,"s":0.4,"r":-2},{"t":2015.663,"d":13.2,"s":-1.0,"r":1},{"t":2015.683,"d":16.8,"s":-0.4,"r":4},{"t":2015.702,"d":8.4,"s":-1.8,"r":-3},{"t":2015.721,"d":15.0,"s":-0.2,"r":2},{"t":2015.740,"d":12.3,"s":-0.9,"r":0},{"t":2015.760,"d":8.7,"s":-0.5,"r":-4},{"t":2015.779,"d":14.7,"s":-1.5,"r":3},{"t":2015.798,"d":11.3,"s":-0.9,"r":-1},{"t":2015.817,"d":13.2,"s":-2.0,"r":2},{"t":2015.837,"d":9.6,"s":-0.6,"r":-3},{"t":2015.856,"d":6.0,"s":-2.2,"r":-5},{"t":2015.875,"d":12.6,"s":-1.6,"r":1},{"t":2015.894,"d":11.4,"s":0.2,"r":-2},{"t":2015.913,"d":8.6,"s":-0.6,"r":-4},{"t":2015.933,"d":15.6,"s":0.4,"r":2},{"t":2015.952,"d":11.0,"s":0.8,"r":-3},{"t":2015.971,"d":14.1,"s":0.9,"r":0},{"t":2015.990,"d":9.4,"s":0.2,"r":-4},
{"t":2016.010,"d":14.0,"s":1.6,"r":-1},{"t":2016.029,"d":9.3,"s":0.9,"r":-5},{"t":2016.048,"d":17.9,"s":2.5,"r":2},{"t":2016.067,"d":12.3,"s":1.9,"r":-3},{"t":2016.087,"d":16.6,"s":2.2,"r":1},{"t":2016.106,"d":10.8,"s":1.4,"r":-4},{"t":2016.125,"d":15.8,"s":2.4,"r":0},{"t":2016.144,"d":13.3,"s":1.9,"r":-2},{"t":2016.163,"d":19.1,"s":2.7,"r":3},{"t":2016.183,"d":14.6,"s":1.8,"r":-1},{"t":2016.202,"d":18.3,"s":2.5,"r":2},{"t":2016.221,"d":21.6,"s":2.8,"r":5},{"t":2016.240,"d":19.2,"s":2.4,"r":3},{"t":2016.260,"d":21.3,"s":1.5,"r":6},{"t":2016.279,"d":19.0,"s":1.2,"r":4},{"t":2016.298,"d":22.1,"s":0.3,"r":8},{"t":2016.317,"d":19.4,"s":0.6,"r":5},{"t":2016.337,"d":23.7,"s":0.9,"r":9},{"t":2016.356,"d":20.7,"s":-0.4,"r":7},{"t":2016.375,"d":24.6,"s":0.5,"r":10},{"t":2016.394,"d":19.8,"s":-0.3,"r":6},{"t":2016.413,"d":23.2,"s":0.1,"r":9},{"t":2016.433,"d":18.5,"s":-0.6,"r":5},{"t":2016.452,"d":22.9,"s":0.8,"r":8},{"t":2016.471,"d":23.9,"s":-0.2,"r":10},{"t":2016.490,"d":19.3,"s":-0.8,"r":6},{"t":2016.510,"d":22.4,"s":-0.7,"r":9},{"t":2016.529,"d":17.5,"s":-1.0,"r":4},{"t":2016.548,"d":21.6,"s":0.1,"r":7},{"t":2016.567,"d":17.3,"s":-0.2,"r":3},{"t":2016.587,"d":19.2,"s":-1.3,"r":6},{"t":2016.606,"d":16.1,"s":-0.4,"r":2},{"t":2016.625,"d":9.6,"s":-0.9,"r":-4},{"t":2016.644,"d":13.9,"s":0.4,"r":-1},{"t":2016.663,"d":15.5,"s":-1.0,"r":2},{"t":2016.683,"d":12.1,"s":-0.4,"r":-2},{"t":2016.702,"d":13.7,"s":-1.8,"r":1},{"t":2016.721,"d":17.3,"s":-0.2,"r":3},{"t":2016.740,"d":10.6,"s":-0.9,"r":-3},{"t":2016.760,"d":16.5,"s":-0.5,"r":2},{"t":2016.779,"d":13.5,"s":-1.5,"r":0},{"t":2016.798,"d":11.1,"s":-0.9,"r":-3},{"t":2016.817,"d":17.0,"s":-2.0,"r":4},{"t":2016.837,"d":15.4,"s":-0.6,"r":1},{"t":2016.856,"d":8.8,"s":-2.2,"r":-4},{"t":2016.875,"d":15.4,"s":-1.6,"r":2},{"t":2016.894,"d":14.2,"s":0.2,"r":-1},{"t":2016.913,"d":17.4,"s":-0.6,"r":3},{"t":2016.933,"d":13.4,"s":0.4,"r":-2},{"t":2016.952,"d":11.8,"s":0.8,"r":-4},{"t":2016.971,"d":17.9,"s":0.9,"r":2},{"t":2016.990,"d":14.2,"s":0.2,"r":-1}
],
"trend": [
{"t":2011.00,"v":15.87},{"t":2011.10,"v":15.96},{"t":2011.20,"v":16.0},{"t":2011.30,"v":16.02},{"t":2011.50,"v":16.03},{"t":2011.65,"v":16.02},{"t":2011.78,"v":15.9},{"t":2011.88,"v":15.79},{"t":2012.05,"v":15.65},{"t":2012.20,"v":15.52},{"t":2012.37,"v":15.41},{"t":2012.54,"v":15.51},{"t":2012.78,"v":15.69},{"t":2012.97,"v":15.51},{"t":2013.10,"v":15.33},{"t":2013.24,"v":15.17},{"t":2013.52,"v":14.96},{"t":2013.68,"v":14.88},{"t":2013.90,"v":14.98},{"t":2014.06,"v":15.08},{"t":2014.25,"v":15.05},{"t":2014.44,"v":14.91},{"t":2014.71,"v":14.6},{"t":2014.96,"v":14.34},{"t":2015.08,"v":14.12},{"t":2015.20,"v":13.85},{"t":2015.42,"v":13.42},{"t":2015.58,"v":13.21},{"t":2015.75,"v":13.14},{"t":2015.86,"v":13.14},{"t":2015.99,"v":13.35},{"t":2016.13,"v":13.7},{"t":2016.29,"v":13.92},{"t":2016.46,"v":14.13},{"t":2016.73,"v":14.56},{"t":2017.00,"v":15.25}
]
},
"vconcat": [
{
"width": 399, "height": 73.5,
"data": {"name": "ts"},
"resolve": {"axis": {"y": "independent"}},
"layer": [
{"mark": {"type": "line", "color": "black", "strokeWidth": 1},
"encoding": {
"x": {"field": "t", "type": "quantitative", "scale": {"domain": [2010.75, 2017.26], "nice": false, "zero": false}, "axis": {"orient": "bottom", "values": [2011,2012,2013,2014,2015,2016,2017], "ticks": true, "tickSize": 4, "labels": false, "title": null}},
"y": {"field": "d", "type": "quantitative", "scale": {"domain": [3.1, 37.9], "nice": false, "zero": false}, "axis": {"orient": "left", "values": [5,15,25,35], "labelAngle": 270, "labelAlign": "center", "labelBaseline": "middle", "labelPadding": 11, "labelFontSize": 9.5, "title": "data", "titleFontSize": 13.5, "titleAngle": 270, "titleAlign": "center", "titleBaseline": "middle", "titleX": -36, "titleY": 36.75}}
}},
{"data": {"values": [{"lo": 19.05, "hi": 21.95}]},
"mark": {"type": "rect", "fill": "#d3d3d3", "stroke": "black", "strokeWidth": 0.7},
"encoding": {
"x": {"datum": 2017.16, "type": "quantitative"}, "x2": {"datum": 2017.23},
"y": {"field": "lo", "type": "quantitative", "axis": {"orient": "right", "values": [5,15,25,35], "labels": false, "title": null}}, "y2": {"field": "hi"}
}}
]
},
{
"width": 399, "height": 73.5,
"data": {"name": "ts"},
"resolve": {"axis": {"y": "independent"}},
"layer": [
{"mark": {"type": "line", "color": "black", "strokeWidth": 1},
"encoding": {
"x": {"field": "t", "type": "quantitative", "scale": {"domain": [2010.75, 2017.26], "nice": false, "zero": false}, "axis": {"orient": "bottom", "values": [2011,2012,2013,2014,2015,2016,2017], "ticks": true, "tickSize": 4, "labels": false, "title": null}},
"y": {"field": "s", "type": "quantitative", "scale": {"domain": [-4.95, 4.25], "nice": false, "zero": false}, "axis": {"orient": "left", "values": [-4,-2,0,2], "labels": false, "title": "seasonal", "titleFontSize": 13.5, "titleAngle": 270, "titleAlign": "center", "titleBaseline": "middle", "titleX": -36, "titleY": 36.75}}
}},
{"data": {"values": [{"lo": -1.9, "hi": 1.0}]},
"mark": {"type": "rect", "fill": "#d3d3d3", "stroke": "black", "strokeWidth": 0.7},
"encoding": {
"x": {"datum": 2017.16, "type": "quantitative"}, "x2": {"datum": 2017.23},
"y": {"field": "lo", "type": "quantitative", "axis": {"orient": "right", "values": [-4,-2,0,2], "labelAngle": 270, "labelAlign": "center", "labelBaseline": "middle", "labelPadding": 11, "labelFontSize": 9.5, "title": null}}, "y2": {"field": "hi"}
}}
]
},
{
"width": 399, "height": 73.5,
"data": {"name": "trend"},
"resolve": {"axis": {"y": "independent"}},
"layer": [
{"mark": {"type": "line", "color": "black", "strokeWidth": 1, "interpolate": "monotone"},
"encoding": {
"x": {"field": "t", "type": "quantitative", "scale": {"domain": [2010.75, 2017.26], "nice": false, "zero": false}, "axis": {"orient": "bottom", "values": [2011,2012,2013,2014,2015,2016,2017], "ticks": true, "tickSize": 4, "labels": false, "title": null}},
"y": {"field": "v", "type": "quantitative", "scale": {"domain": [13.05, 16.16], "nice": false, "zero": false}, "axis": {"orient": "left", "values": [13.5,14.5,15.5], "format": ".1f", "labelAngle": 270, "labelAlign": "center", "labelBaseline": "middle", "labelPadding": 11, "labelFontSize": 9.5, "title": "trend", "titleFontSize": 13.5, "titleAngle": 270, "titleAlign": "center", "titleBaseline": "middle", "titleX": -36, "titleY": 36.75}}
}},
{"data": {"values": [{"lo": 13.14, "hi": 16.03}]},
"mark": {"type": "rect", "fill": "#d3d3d3", "stroke": "black", "strokeWidth": 0.7},
"encoding": {
"x": {"datum": 2017.16, "type": "quantitative"}, "x2": {"datum": 2017.23},
"y": {"field": "lo", "type": "quantitative", "axis": {"orient": "right", "values": [13.5,14.5,15.5], "labels": false, "title": null}}, "y2": {"field": "hi"}
}}
]
},
{
"width": 399, "height": 73.5,
"data": {"name": "ts"},
"resolve": {"axis": {"y": "independent"}},
"layer": [
{"mark": {"type": "line", "color": "black", "strokeWidth": 1},
"encoding": {
"x": {"field": "t", "type": "quantitative", "scale": {"domain": [2010.75, 2017.26], "nice": false, "zero": false}, "axis": {"orient": "bottom", "values": [2011,2012,2013,2014,2015,2016,2017], "ticks": true, "tickSize": 4, "format": "d", "labelFontSize": 10, "labelPadding": 7, "title": "time", "titleFontSize": 14, "titleY": 41, "titleBaseline": "alphabetic"}},
"y": {"field": "r", "type": "quantitative", "scale": {"domain": [-16.2, 26.1], "nice": false, "zero": false}, "axis": {"orient": "left", "values": [-10,0,10,20], "labels": false, "title": "remainder", "titleFontSize": 13.5, "titleAngle": 270, "titleAlign": "center", "titleBaseline": "middle", "titleX": -36, "titleY": 36.75}}
}},
{"mark": {"type": "rule", "color": "black", "strokeWidth": 1},
"encoding": {"y": {"datum": 0, "type": "quantitative", "axis": null}}},
{"data": {"values": [{"lo": 3.3, "hi": 6.2}]},
"mark": {"type": "rect", "fill": "#d3d3d3", "stroke": "black", "strokeWidth": 0.7},
"encoding": {
"x": {"datum": 2017.16, "type": "quantitative"}, "x2": {"datum": 2017.23},
"y": {"field": "lo", "type": "quantitative", "axis": {"orient": "right", "values": [-10,0,10,20], "labelAngle": 270, "labelAlign": "center", "labelBaseline": "middle", "labelPadding": 11, "labelFontSize": 9.5, "title": null}}, "y2": {"field": "hi"}
}}
]
}
],
"spacing": 0
}
